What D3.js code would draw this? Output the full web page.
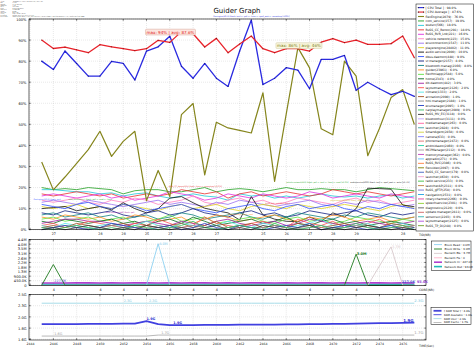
<!DOCTYPE html>
<html><head><meta charset="utf-8">
<script src="https://cdn.jsdelivr.net/npm/d3@7"></script>
<style>body{margin:0;background:#fff}svg{display:block;font-family:"DejaVu Sans",sans-serif}</style>
</head><body><svg id="c" width="474" height="355"></svg>
<script>
// ---------------- DATA ----------------
const times = [2445,2446,2447,2448,2449,2450,2451,2452,2453,2454,2455,
               2456,2457,2458,2459,2460,2461,2462,2463,2464,2465,2466,
               2467,2468,2469,2470,2471,2472,2473,2474,2475,2476,2477];
const xTickValues = [2444,2446,2448,2450,2452,2454,2456,2458,2460,2462,2464,2466,2468,2470,2472,2474,2476];
const cpuTickLabels = ["","27","","28","28","25","27","28","27","","25","26","27","28","29","","28"];
const coreTickLabels = ["","4","","4","4","4","4","4","4","","4","4","4","4","4","","4"];

const cpuTotal = [80,76,84.8,78.9,72.9,72.9,79.9,78.9,71.1,84.8,86.8,
                  91.8,77.6,71.9,78.9,71.9,68,84.8,99.5,68.9,71.9,76.9,
                  75.7,66.9,80.8,80.8,82.7,66.2,70,66.9,64.1,65.7,63.3];
const cpuAvg = [90,86,86.7,85.4,84,87.8,86.8,85.9,85,85.9,89.9,
                88.9,94,93,86.7,90.8,84,88.1,91.9,85.9,84,85.9,
                85.9,84.8,89,90.7,88.8,90,88,88,88.3,91.9,81.6];
const flexEngine = [32.1,18.9,25,31.5,38,46.7,34.8,41.9,46.7,13.8,28.1,
                    15.7,54.6,59.9,26,51,48.3,47.1,45.9,65,22.9,55,
                    86.4,76.8,47.9,45.1,80,72.9,35.1,48,62.7,66.5,49.9];
const comService = [20,19,19.5,19,20,19.5,19,17,18.5,19,19, 18,18,19,20,18,19,19.5,19,18,19,20, 19,19,19.5,19,19,18,19,20,19.5,19,18.5];
const wsdsrc = [19,19,18.5,18,18,17,17.5,16,17,17.5,16, 15,16,17,16,15.5,14,17,16,16.5,15,16, 15,16,17,16,15.5,16,15,16,16.5,15,16];
const ccRenox = [17,16,17,18,17,16,17,15,16,17,16, 17,19,18,17,18,15,17,18,16,17,18, 17,16,17,19,18,17,18,17,16,17,18];
const rvrLnk = [16,17,16,15,16,17,15,16,14,15,16, 18,17,16,14,15,17,16,15,17,16,15, 16,18,17,15,16,17,16,15,17,16,15];
const vehicleNet = [14,13,14,15,13,12,14,13,15,14,12, 13,14,16,13,12,14,15,13,14,12,13, 15,14,13,12,14,15,13,14,12,13,14];
const ecuConn = [13,14,13,12,14,13,12,11,12,13,14, 12,13,12,11,13,12,14,13,12,11,12, 13,14,12,11,13,12,14,13,12,11,12];
const playerEngine = [11,10,11,12,10,11,10,12,11,10,9, 11,12,10,11,12,10,9,11,12,11,10, 12,11,10,11,12,11,10,9,11,12,10];
const audioService = [10,10.5,11,9,10,11,9.4,12.8,10,8,10, 15,15.7,12.8,10.2,9,8,4.6,15.7,7,5,4, 3.8,6,4,8,6,10,19.7,19.5,19.2,11.7,10.9];
const dbusDaemon = [12,11,10,12,13,11,10,12,11,9,10, 11,12,10,9,8,10,11,12,10,9,11, 12,10,11,12,10,9,11,10,12,11,10];
const vrManager = [8,7,9,8,7,8,9,7,6,8,9, 7,8,10,8,7,6,8,9,7,8,6, 7,9,8,7,8,9,7,6,8,7,8];
const btManager = [7,8,6,7,8,6,7,5,6,7,5, 6,8,7,5,6,7,8,6,5,7,6, 8,7,6,5,7,6,8,7,6,5,6];
const guiderProc = [6,5,7,6,5,6,4,5,7,6,4, 5,6,3,5,7,6,4,5,6,7,5, 4,6,5,7,6,4,5,6,4,5,6];
const flexHmi = [5,6,4,5,6,4,5,6,3,4,5, 7,4,5,6,3,4,5,6,4,3,5, 6,4,5,3,4,6,5,4,3,5,4];
const homeProc = [4,3,5,4,3,4,5,3,4,2,4, 5,3,6,4,2,3,4,5,3,4,6, 3,2,4,5,3,4,2,3,4,3,2];
const dltDaemon = [3,4,5,5,4,4,3,2,3,4,3, 2,4,3,2,4,5,3,2,3,4,2, 3,5,4,3,2,3,4,3,2,3,4];
const layoutMgr = [2,3,1,2,4,3,2,1,3,2,5, 3,1,2,6,3,2,1,3,4,2,1, 5,3,2,4,1,2,3,5,2,1,2];
const climate = [2,1,3,2,1,2,3,1,2,4,2, 1,3,2,1,2,4,2,1,3,2,1, 2,3,5,2,1,2,3,1,2,3,1];
const arcnation = [1,2,1,3,2,1,2,3,1,2,1, 2,3,1,2,4,1,2,3,1,2,1, 3,2,1,2,3,1,2,1,3,2,1];
const hmiManager = [1,1,2,1,0.5,1,2,1,1,0.5,2, 1,1,2,1,0.5,1,2,1,1,2,1, 0.5,1,2,1,1,2,1,0.5,1,1,2];
const ecuManager = [0,1,2,1,0,1,3,2,1,0,1, 2,0,1,3,1,0,2,1,0,1,2, 1,3,0,1,2,1,0,1,2,0,1];
const carplayMgr = [1,0,1,2,1,0,1,0,2,1,0, 1,2,4,1,0,1,2,1,0,3,1, 0,1,2,0,1,3,1,0,1,2,0];
const mvEc = [0,1,0,1,2,1,0,1,0,2,1, 0,1,0,1,2,0,1,0,2,1,0, 1,2,0,1,0,1,2,1,0,1,0];

const cpuLegendNames = ["[ CPU Total ] : 98.0%","[ CPU Average ] : 87.6%","flexEngine(2079) : 76.0%","com_service(157) : 19.0%",
 "wsdsrc(566) : 18.0%","RuSS_CC_Renox(291) : 18.0%","RuSS_RVR_Lnk(221) : 16.0%","vehicle.network(223) : 15.0%",
 "ecuconnection(1547) : 11.0%","playerengine(28402) : 11.0%","audio.service(2000) : 10.0%","dbus-daemon(448) : 9.0%",
 "vr.manager(2157) : 8.0%","bluetooth.manag(2166) : 8.0%","guider(23961) : 6.0%","flexHmiapp(2548) : 5.0%",
 "home(2343) : 4.0%","dlt-daemon(442) : 3.0%","layoutmanager(2126) : 2.0%","climate(1333) : 2.0%",
 "arcnation(2090) : 1.0%","hmi.manager(2188) : 1.0%","ecumanager(2095) : 1.0%","carplaymanager(2089) : 0.0%",
 "RuSS_MV_EC(3118) : 0.0%","bluetoothsvc(3111) : 0.0%","mediamanager(263) : 0.0%","launcher(2828) : 0.0%",
 "SmartAgent(2458) : 0.0%","camera(633) : 0.0%","phonemanager(2472) : 0.0%","androidauto(2460) : 0.0%",
 "MCPManager(2112) : 0.0%","memorymanager(362) : 0.0%","appradio(271) : 0.0%","RuSS_RVC(2386) : 0.0%",
 "flexvideo(2097) : 0.0%","RuSS_CC_Server(179) : 0.0%","launcher(4630) : 0.0%","radio.service(233) : 0.0%",
 "launcherAP(2311) : 0.0%","RuSS_gPTP(258) : 0.0%","navigation(2531) : 0.0%","rotary.channel(2266) : 0.0%",
 "speechservice(2301) : 0.0%","diagnostics(2120) : 0.0%","update.manager(2411) : 0.0%","sensorsvc(2203) : 0.0%",
 "layoutmanager(2125) : 0.0%","RuSS_TP_Di(248) : 0.0%"];
const cpuColors = ["#2a2ae0","#e8222a","#85851c","#22a022","#20c8d8","#e83030","#e030e0","#ff80c0",
 "#9a70f0","#e0d020","#111111","#3050ff","#102080","#108080","#ff9020","#60e040",
 "#0a6a20","#a020a0","#ff5050","#50e8e8","#a05020","#909090","#2040c0","#30c060",
 "#333333","#c0a0ff","#ff60a0","#40a0a0","#d0d040","#8080ff","#e07070","#20d0a0",
 "#a0a0a0","#c040c0","#60c0ff","#ff8040","#808000","#4060c0","#f0a0d0","#40c040",
 "#c08040","#7070d0","#20a0e0","#e040a0","#90d030","#606060","#d06060","#30b0b0",
 "#b050e0","#70a030"];
const cpuSeries = [comService,wsdsrc,ccRenox,rvrLnk,vehicleNet,ecuConn,playerEngine,audioService,dbusDaemon,
  vrManager,btManager,guiderProc,flexHmi,homeProc,dltDaemon,layoutMgr,climate,arcnation,hmiManager,ecuManager,carplayMgr,mvEc];

const cpuYTicks = [0,10,20,30,40,50,60,70,80,90,100];
const cpuYLabels = ["0%","10%","20%","30%","40%","50%","60%","70%","80%","90%","100%"];

// I/O panel (values in MB)
const blockRead = [0,0,0,0,0,0,0,0,0,0,4.0, 0,0,0,0,0,0,0,0,0,0,0, 0,0,0,0,0,0,0,0,0,0,0];
const blockWrite = [0,2.0,0,0,0,0,0,0,0,0,0, 0,0,0,0,0,0,0,0,0,0,0, 0,0,0,0,0,3.0,0,0,0,0,0];
const reclaimBG = [0,0,0,0,0,0,0,0,0,0,0, 0,0,0,0,0,0,0,0,0,0,0, 0,0,0,0,0,0,0,1.85,3.7,0,0];
const reclaimFG = [0,0,0,0,0,0,0,0,0,0,0, 0,0,0,0,0,0,0,0,0,0,0, 0,0,0,0,0,0,0,0,0,0,0];
const networkIn = [0.22,0.227,0.22,0.24,0.23,0.22,0.23,0.22,0.24,0.23,0.22, 0.23,0.22,0.24,0.23,0.22,0.23,0.22,0.24,0.23,0.22,0.23, 0.22,0.24,0.23,0.22,0.23,0.22,0.24,0.23,0.22,0.23,0.227];
const networkOut = [0.09,0.1,0.09,0.08,0.09,0.1,0.09,0.09,0.08,0.1,0.09, 0.09,0.1,0.08,0.09,0.09,0.1,0.09,0.08,0.09,0.1,0.09, 0.09,0.08,0.1,0.09,0.09,0.1,0.08,0.09,0.09,0.1,0.093];
const ioYTicks = [0,0.44,0.88,1.32,1.76,2.2,2.64,3.08,3.52,3.96,4.4];
const ioYLabels = ["0","450.0K","900.0K","1.3M","1.8M","2.2M","2.6M","3.1M","3.5M","4.0M","4.4M"];
const ioLegendNames = ["Block Read : 0.0M","Block Write : 3.0M","Reclaim BG : 3.7M","Reclaim FG : 0","Network In : 227.0K","Network Out : 93.0K"];

// Memory panel (values in GB)
const ramAvail = [1.88,1.88,1.88,1.88,1.885,1.885,1.885,1.89,1.89,1.94,1.88, 1.86,1.86,1.86,1.865,1.865,1.865,1.87,1.87,1.87,1.87,1.875, 1.875,1.88,1.88,1.885,1.885,1.89,1.895,1.9,1.9,1.905,1.91];
const ramUser = [2.3,2.3,2.3,2.3,2.3,2.3,2.3,2.3,2.3,2.3,2.3, 2.3,2.3,2.3,2.3,2.3,2.3,2.3,2.3,2.3,2.3,2.3, 2.3,2.3,2.3,2.3,2.3,2.3,2.3,2.3,2.3,2.3,2.3];
const ramCache = [1.64,1.64,1.64,1.64,1.64,1.64,1.64,1.64,1.64,1.64,1.66, 1.66,1.66,1.66,1.66,1.66,1.66,1.66,1.66,1.66,1.66,1.66, 1.66,1.66,1.66,1.66,1.66,1.66,1.66,1.66,1.66,1.66,1.66];
const memYTicks = [1.575,1.8,2.025,2.25,2.475];
const memYLabels = ["1.6G","1.8G","2.0G","2.3G","2.5G"];
const memLegendNames = ["[ RAM Total ] : 4.4G","RAM Available : 1.9G","RAM User : 2.3G","RAM Cache : 1.7G"];

const headerRows = [["Time","2020-05-11 14:32:10 (UTC+9) / 34.1 sec"],["OS","Linux"],["Kernel","4.14.78-rt44"],["Release","r1.0"],
  ["Arch","aarch64"],["CPU","8 (Cortex-A53)"],["Memory","4,446 MB"],["Swap","0 MB"],["Uptime","0:41:18"],
  ["Load","9.02 / 8.81 / 8.54"],["Cmdline","guider record -a -e p -o /tmp"],
  ["Comment","flexEngine(2079) / com_service(157) / wsdsrc(566) / vehicle.network(223) / audio.service(2000)"]];

// ---------------- DRAW ----------------
const svg = d3.select("#c");
const X0 = 29, X1 = 426;
const x = d3.scaleLinear().domain([2443.91, 2478]).range([X0, X1]);
const yCpu = d3.scaleLinear().domain([0, 100]).range([229.7, 19]);
const yIo = d3.scaleLinear().domain([0, 4.4]).range([285.3, 239.6]);
const yMem = d3.scaleLinear().domain([1.575, 2.475]).range([339.3, 294.5]);

function panel(y, top, bottom, yTicks, yLabels, xLabels, xLabelSize) {
  const g = svg.append("g");
  g.selectAll("line.vg").data(xTickValues).join("line")
    .attr("x1", d => x(d)).attr("x2", d => x(d)).attr("y1", top).attr("y2", bottom)
    .attr("stroke", "#b8b8b8").attr("stroke-width", 0.45).attr("stroke-dasharray", "0.7,1.3");
  g.selectAll("line.hg").data(yTicks).join("line")
    .attr("x1", X0).attr("x2", X1).attr("y1", d => y(d)).attr("y2", d => y(d))
    .attr("stroke", "#b8b8b8").attr("stroke-width", 0.45).attr("stroke-dasharray", "0.7,1.3");
  const ya = d3.axisLeft(y).tickValues(yTicks).tickFormat((d, i) => yLabels[i]).tickSize(0).tickPadding(2.5);
  const ag = g.append("g").attr("transform", `translate(${X0},0)`).call(ya);
  ag.select(".domain").remove();
  ag.selectAll("text").attr("font-size", 3.6).attr("fill", "#111").attr("font-family", "DejaVu Sans");
  if (xLabels) {
    const shown = xTickValues.filter((d, i) => xLabels[i] !== "");
    const xa = d3.axisBottom(x).tickValues(shown).tickFormat(d => xLabels[xTickValues.indexOf(d)]).tickSize(0).tickPadding(3);
    const xg = g.append("g").attr("transform", `translate(0,${bottom})`).call(xa);
    xg.select(".domain").remove();
    xg.selectAll("text").attr("font-size", xLabelSize).attr("fill", "#111").attr("font-family", "DejaVu Sans");
  }
  g.selectAll("line.tt").data(xTickValues).join("line")
    .attr("x1", d => x(d)).attr("x2", d => x(d)).attr("y1", top).attr("y2", top + 1.8).attr("stroke", "#000").attr("stroke-width", 0.5);
  g.selectAll("line.tb").data(xTickValues).join("line")
    .attr("x1", d => x(d)).attr("x2", d => x(d)).attr("y1", bottom - 1.8).attr("y2", bottom).attr("stroke", "#000").attr("stroke-width", 0.5);
  g.selectAll("line.tl").data(yTicks).join("line")
    .attr("x1", X0).attr("x2", X0 + 1.8).attr("y1", d => y(d)).attr("y2", d => y(d)).attr("stroke", "#000").attr("stroke-width", 0.5);
  g.selectAll("line.tr").data(yTicks).join("line")
    .attr("x1", X1 - 1.8).attr("x2", X1).attr("y1", d => y(d)).attr("y2", d => y(d)).attr("stroke", "#000").attr("stroke-width", 0.5);
  return g;
}
function frame(top, bottom) {
  svg.append("rect").attr("x", X0).attr("y", top).attr("width", X1 - X0).attr("height", bottom - top)
    .attr("fill", "none").attr("stroke", "#000").attr("stroke-width", 0.6);
}
function drawLine(g, y, vals, color, w) {
  const line = d3.line().x((d, i) => x(times[i])).y(d => y(d));
  g.append("path").datum(vals).attr("d", line).attr("fill", "none").attr("stroke", color)
    .attr("stroke-width", w).attr("stroke-linejoin", "round");
}

// header (kept above the 100% label)
const hg = svg.append("g").attr("font-size", 1.5).attr("fill", "#333");
headerRows.forEach((r, i) => {
  hg.append("text").attr("x", 0.5).attr("y", 1.8 + i * 1.4).text(r[0]);
  hg.append("text").attr("x", 12.5).attr("y", 1.8 + i * 1.4).text(r[1]);
});

// title
svg.append("text").attr("x", 237).attr("y", 12.6).attr("text-anchor", "middle").attr("font-size", 7).attr("fill", "#111").text("Guider Graph");

// ---- CPU panel ----
const gc = panel(yCpu, 19, 229.7, cpuYTicks, cpuYLabels, cpuTickLabels, 3.3);
cpuSeries.forEach((s, i) => drawLine(gc, yCpu, s, cpuColors[i + 3], 0.8));
drawLine(gc, yCpu, flexEngine, cpuColors[2], 1.2);
drawLine(gc, yCpu, cpuTotal, cpuColors[0], 1.3);
drawLine(gc, yCpu, cpuAvg, cpuColors[1], 1.3);
[[cpuTotal, "#101080"], [cpuAvg, "#801010"]].forEach(([s, c]) => {
  gc.selectAll(null).data(s).join("circle").attr("cx", (d, i) => x(times[i])).attr("cy", d => yCpu(d)).attr("r", 0.55).attr("fill", c);
});
frame(19, 229.7);

function annot(text, cx, cy, color, fill, stroke) {
  const t = svg.append("text").attr("x", cx).attr("y", cy).attr("text-anchor", "middle").attr("dy", "0.35em")
    .attr("font-size", 4.1).attr("fill", color).text(text);
  const b = t.node().getBBox();
  svg.insert("rect", () => t.node()).attr("x", b.x - 1).attr("y", b.y - 0.4).attr("width", b.width + 2).attr("height", b.height + 0.8)
    .attr("rx", 1).attr("fill", fill).attr("stroke", stroke).attr("stroke-width", 0.4);
}
const iMaxAvg = d3.maxIndex(cpuAvg);
annot(`max: ${d3.max(cpuAvg)}% | avg: 87.6%`, x(times[iMaxAvg]) - 11, yCpu(cpuAvg[iMaxAvg]) + 0.5, "#e02020", "#fde6e0", "#d09080");
const iMaxFe = d3.maxIndex(flexEngine);
annot(`max: ${Math.round(d3.max(flexEngine))}% | avg: 46%`, x(times[iMaxFe]) + 1, yCpu(flexEngine[iMaxFe]) - 2, "#80801a", "#f8f6dc", "#c8c090");

// tiny stack labels
const stackLabels = [
  ["flexEngine(2079) Stack: ioctl <- poll <- futex <- epoll_wait <- nanosleep [100%]", times[18], 16.8, "#2a2ae0", "middle"],
  ["vehicle.network(223) Stack: poll <- ioctl <- futex <- read [19.0%]", 2466.0, 182.7, "#22a022", "start"],
  ["audio.service(2000) Stack: ioctl <- epoll_wait <- write [19.7%]", 2471.5, 182.7, "#111111", "start"],
  ["RuSS_CC_Renox(291) Stack: futex <- nanosleep [19.0%]", 2455.9, 186.7, "#e83030", "start"],
  ["flexEngine(2079) Stack: ioctl", 2444.3, 200, "#3050ff", "start"],
  ["com_service(157) Stack: poll <- read <- futex", 2447.3, 200, "#22a022", "start"],
  ["playerengine(28402) Stack: read [11.0%]", 2469.8, 200.7, "#d0b020", "start"],
  ["RuSS_RVR_Lnk(221) Stack", 2464.2, 204, "#e83030", "start"],
  ["dbus-daemon(448) Stack: poll", 2450.5, 213, "#a020a0", "start"],
  ["guider(23961) Stack: read", 2461.0, 215, "#ff9020", "start"]
];
stackLabels.forEach(l => {
  svg.append("text").attr("x", x(l[1])).attr("y", l[2]).attr("text-anchor", l[4]).attr("font-size", 1.9).attr("fill", l[3]).text(l[0]);
});

// CPU legend
const lg = svg.append("g");
lg.append("rect").attr("x", 416).attr("y", 4).attr("width", 57.5).attr("height", 227).attr("fill", "#fff").attr("stroke", "#000").attr("stroke-width", 0.5);
cpuLegendNames.forEach((n, i) => {
  const yy = 7.6 + i * 4.45;
  lg.append("line").attr("x1", 418).attr("x2", 424).attr("y1", yy).attr("y2", yy).attr("stroke", cpuColors[i]).attr("stroke-width", i < 3 ? 1.1 : 0.9);
  if (i < 2) {
    lg.append("circle").attr("cx", 418.3).attr("cy", yy).attr("r", 0.6).attr("fill", "#222");
    lg.append("circle").attr("cx", 423.7).attr("cy", yy).attr("r", 0.6).attr("fill", "#222");
  }
  lg.append("text").attr("x", 425.5).attr("y", yy).attr("dy", "0.35em").attr("font-size", 3.0).attr("fill", "#111").text(n);
});
svg.append("text").attr("x", 419).attr("y", 235.6).attr("font-size", 3).attr("fill", "#111").text("TID(NR)");

// ---- IO panel ----
const gi = panel(yIo, 239.6, 285.3, ioYTicks, ioYLabels, coreTickLabels, 3.3);
const ioColors = ["#8cd0f0", "#1e7a1e", "#d8c8cc", "#ffb0c8", "#b040d0", "#20b8b8"];
drawLine(gi, yIo, reclaimFG, ioColors[3], 0.8);
drawLine(gi, yIo, networkOut, ioColors[5], 1.6);
drawLine(gi, yIo, networkIn, ioColors[4], 1.6);
drawLine(gi, yIo, blockRead, ioColors[0], 0.9);
drawLine(gi, yIo, blockWrite, ioColors[1], 0.9);
drawLine(gi, yIo, reclaimBG, ioColors[2], 0.9);
frame(239.6, 285.3);
function fmtIo(v) { return v < 1 ? (v * 1000).toFixed(1) + "K" : v.toFixed(1) + "M"; }
[[blockRead, 0], [reclaimBG, 2]].forEach(([s, c]) => {
  const i = d3.maxIndex(s);
  svg.append("text").attr("x", x(times[i]) + 1).attr("y", yIo(s[i]) + 1.2).attr("font-size", 3.4).attr("fill", ioColors[c]).text(fmtIo(s[i]));
});
{
  const i = d3.maxIndex(blockWrite.map((v, k) => k > 15 ? v : 0));
  svg.append("text").attr("x", x(times[i]) + 0.5).attr("y", yIo(blockWrite[i]) + 1.2).attr("font-size", 3.6).attr("font-weight", "bold").attr("fill", ioColors[1]).text(fmtIo(blockWrite[i]));
}
svg.append("text").attr("x", x(times[1]) + 1).attr("y", yIo(networkIn[1]) - 0.6).attr("font-size", 3.4).attr("fill", "#5050d0").text(fmtIo(networkIn[1]));
svg.append("text").attr("x", x(times[31]) - 1).attr("y", yIo(networkIn[32]) - 0.4).attr("font-size", 3.4).attr("font-weight", "bold").attr("fill", "#5050d0").text(fmtIo(networkIn[32]));
svg.append("text").attr("x", x(times[31]) + 14.2).attr("y", yIo(networkOut[32]) - 1).attr("font-size", 3.4).attr("font-weight", "bold").attr("fill", "#9040d0").text(fmtIo(networkOut[32]));
const il = svg.append("g");
il.append("rect").attr("x", 431.5).attr("y", 241).attr("width", 39.5).attr("height", 29.5).attr("fill", "#fff").attr("stroke", "#000").attr("stroke-width", 0.5);
ioLegendNames.forEach((n, i) => {
  const yy = 244.6 + i * 4.4;
  il.append("line").attr("x1", 434).attr("x2", 442).attr("y1", yy).attr("y2", yy).attr("stroke", ioColors[i]).attr("stroke-width", i >= 4 ? 1.6 : 0.9);
  il.append("text").attr("x", 444.5).attr("y", yy).attr("dy", "0.35em").attr("font-size", 2.8).attr("fill", "#111").text(n);
});
svg.append("text").attr("x", 419).attr("y", 291.2).attr("font-size", 3).attr("fill", "#111").text("CORE(NR)");

// ---- Memory panel ----
const gm = panel(yMem, 294.5, 340, memYTicks, memYLabels, xTickValues.map(String), 3.2);
const memColors = ["#4848d8", "#4040e0", "#a8dce8", "#b8b8b8"];
drawLine(gm, yMem, ramCache, memColors[3], 1.0);
drawLine(gm, yMem, ramUser, memColors[2], 1.0);
drawLine(gm, yMem, ramAvail, memColors[1], 1.8);
frame(294.5, 340);
function memLabel(s, i, color, size, bold, dx) {
  svg.append("text").attr("x", x(times[i]) + dx).attr("y", yMem(s[i]) - 0.8).attr("font-size", size)
    .attr("font-weight", bold ? "bold" : "normal").attr("fill", color).text(s[i].toFixed(1) + "G");
}
memLabel(ramCache, 1, "#a0a0a0", 3.4, false, 1);
memLabel(ramCache, 10, "#a0a0a0", 3.4, false, 3);
memLabel(ramCache, 32, "#a0a0a0", 3.8, false, 0);
memLabel(ramUser, 7, "#80c8e0", 3.4, false, 0.5);
memLabel(ramUser, 9, "#80c8e0", 3.4, false, 2.5);
memLabel(ramUser, 32, "#80c8e0", 3.8, false, 0);
memLabel(ramAvail, 9, "#3030d0", 3.4, true, 0);
memLabel(ramAvail, 11, "#3030d0", 3.4, true, 3.5);
memLabel(ramAvail, 31, "#3030d0", 4.0, true, 0.5);
const ml = svg.append("g");
ml.append("rect").attr("x", 431).attr("y", 307.5).attr("width", 40).attr("height", 17).attr("fill", "#fff").attr("stroke", "#000").attr("stroke-width", 0.5);
memLegendNames.forEach((n, i) => {
  const yy = 310.8 + i * 3.9;
  ml.append("line").attr("x1", 433.5).attr("x2", 441.5).attr("y1", yy).attr("y2", yy).attr("stroke", memColors[i]).attr("stroke-width", i === 0 ? 1.8 : 0.9);
  ml.append("text").attr("x", 444).attr("y", yy).attr("dy", "0.35em").attr("font-size", 2.7).attr("fill", "#111").text(n);
});
svg.append("text").attr("x", 419).attr("y", 347.3).attr("font-size", 3).attr("fill", "#111").text("TIME(Sec)");
</script></body></html>
